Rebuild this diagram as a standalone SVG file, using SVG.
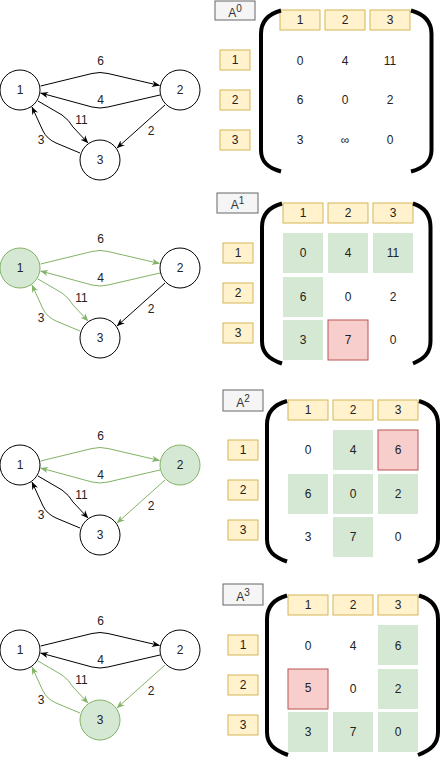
<svg xmlns="http://www.w3.org/2000/svg" width="443" height="760" viewBox="0 0 443 760">
<style>
text{font-family:"Liberation Sans",Helvetica,Arial,sans-serif;font-size:12px;fill:#222;text-anchor:middle}
.nd{fill:#fff;stroke:#000;stroke-width:1}
.ndg{fill:#d5e8d4;stroke:#82b366;stroke-width:1}
.eb{fill:none;stroke:#000;stroke-width:1;marker-end:url(#ab)}
.eg{fill:none;stroke:#82b366;stroke-width:1;marker-end:url(#ag)}
.hd{fill:#fff2cc;stroke:#d6b656;stroke-width:1}
.lb{fill:#f5f5f5;stroke:#666;stroke-width:1}
.lt{fill:#333}
.cg{fill:#d5e8d4;stroke:none}
.cr{fill:#f8cecc;stroke:#b85450;stroke-width:1}
.br{fill:none;stroke:#000;stroke-width:4}
</style>
<defs>
<marker id="ab" viewBox="0 0 10 10" refX="9.5" refY="5" markerWidth="8" markerHeight="8" markerUnits="userSpaceOnUse" orient="auto"><path d="M0,1 L10,5 L0,9 L3,5 Z" fill="#000"/></marker>
<marker id="ag" viewBox="0 0 10 10" refX="9.5" refY="5" markerWidth="8" markerHeight="8" markerUnits="userSpaceOnUse" orient="auto"><path d="M0,1 L10,5 L0,9 L3,5 Z" fill="#82b366"/></marker>
</defs>

<!-- ===== Panel 1 ===== -->
<g id="connectors-p1">
<path class="eb" d="M40.6,86 L92,73.5 Q100,71.5 108,73.5 L159.5,85.5"/>
<path class="eb" d="M160,95 L108,107 Q100,109 92,107 L40.6,93"/>
<path class="eb" d="M38,101 L62,115 Q69,120 73,127 L88,143"/>
<path class="eb" d="M80,153 L56,143 Q47,139 43,131 L32,107"/>
<path class="eb" d="M165,105 L117,148"/>
<text x="100.7" y="65">6</text>
<text x="100.7" y="104">4</text>
<text x="81.5" y="124">11</text>
<text x="41" y="143.5">3</text>
<text x="151" y="135">2</text>
</g>
<g id="p1-n1"><circle class="nd" cx="20" cy="90" r="20"/><text x="20" y="94">1</text></g>
<g id="p1-n2"><circle class="nd" cx="180" cy="90" r="20"/><text x="180" y="94">2</text></g>
<g id="p1-n3"><circle class="nd" cx="100" cy="160" r="20"/><text x="100" y="164">3</text></g>
<g id="p1-matrix">
<rect class="lb" x="215" y="1" width="40" height="19"/><text class="lt" x="235" y="17">A<tspan dy="-5.5" font-size="10">0</tspan></text>
<rect class="hd" x="280" y="10" width="40" height="20"/><text x="300" y="24">1</text>
<rect class="hd" x="325" y="10" width="40" height="20"/><text x="345" y="24">2</text>
<rect class="hd" x="370" y="10" width="40" height="20"/><text x="390" y="24">3</text>
<rect class="hd" x="220" y="50" width="30" height="20"/><text x="235" y="64">1</text>
<rect class="hd" x="220" y="90" width="30" height="20"/><text x="235" y="104">2</text>
<rect class="hd" x="220" y="130" width="30" height="20"/><text x="235" y="144">3</text>
<text x="300" y="65">0</text><text x="345" y="65">4</text><text x="390" y="65">11</text>
<text x="300" y="104">6</text><text x="345" y="104">0</text><text x="390" y="104">2</text>
<text x="300" y="144">3</text><text x="345" y="144">∞</text><text x="390" y="144">0</text>
<path class="br" d="M281,10.5 C268,14 261,22 261,34 L261,150 C261,162 268,168 281,171.5"/>
<path class="br" d="M411,10.5 C424,14 431.5,22 431.5,34 L431.5,150 C431.5,162 424,168 411,171.5"/>
</g>

<!-- ===== Panel 2 ===== -->
<g id="connectors-p2">
<path class="eg" d="M40.6,264 L92,251.5 Q100,249.5 108,251.5 L159.5,263.5"/>
<path class="eg" d="M160,273 L108,285 Q100,287 92,285 L40.6,271"/>
<path class="eg" d="M38,279 L62,293 Q69,298 73,305 L88,321"/>
<path class="eg" d="M80,331 L56,321 Q47,317 43,309 L32,285"/>
<path class="eb" d="M165,283 L117,326"/>
<text x="100.7" y="243">6</text>
<text x="100.7" y="282">4</text>
<text x="81.5" y="302">11</text>
<text x="41" y="321.5">3</text>
<text x="151" y="313">2</text>
</g>
<g id="p2-n1"><circle class="ndg" cx="20" cy="268" r="20"/><text x="20" y="272">1</text></g>
<g id="p2-n2"><circle class="nd" cx="180" cy="268" r="20"/><text x="180" y="272">2</text></g>
<g id="p2-n3"><circle class="nd" cx="100" cy="338" r="20"/><text x="100" y="342">3</text></g>
<g id="p2-matrix">
<rect class="lb" x="217" y="193" width="41" height="20"/><text class="lt" x="237.5" y="209">A<tspan dy="-5.5" font-size="10">1</tspan></text>
<rect class="hd" x="283" y="203" width="40" height="20"/><text x="303" y="217">1</text>
<rect class="hd" x="328" y="203" width="40" height="20"/><text x="348" y="217">2</text>
<rect class="hd" x="373" y="203" width="40" height="20"/><text x="393" y="217">3</text>
<rect class="hd" x="223" y="243" width="30" height="20"/><text x="238" y="257">1</text>
<rect class="hd" x="223" y="283" width="30" height="20"/><text x="238" y="297">2</text>
<rect class="hd" x="223" y="323" width="30" height="20"/><text x="238" y="337">3</text>
<rect class="cg" x="283" y="233" width="40" height="40"/><text x="303" y="257">0</text>
<rect class="cg" x="328" y="233" width="40" height="40"/><text x="348" y="257">4</text>
<rect class="cg" x="373" y="233" width="40" height="40"/><text x="393" y="257">11</text>
<rect class="cg" x="283" y="277" width="40" height="40"/><text x="303" y="301">6</text>
<text x="348" y="301">0</text>
<text x="393" y="301">2</text>
<rect class="cg" x="283" y="320" width="40" height="40"/><text x="303" y="344">3</text>
<rect class="cr" x="328" y="320" width="40" height="40"/><text x="348" y="344">7</text>
<text x="393" y="344">0</text>
<path class="br" d="M282,203.5 C269,207 262,215 262,227 L262,341 C262,353 269,359 282,363.5"/>
<path class="br" d="M413,203.5 C424,207 430.5,215 430.5,227 L430.5,341 C430.5,353 424,359 413,363.5"/>
</g>

<!-- ===== Panel 3 ===== -->
<g id="connectors-p3">
<path class="eg" d="M40.6,461 L92,448.5 Q100,446.5 108,448.5 L159.5,460.5"/>
<path class="eg" d="M160,470 L108,482 Q100,484 92,482 L40.6,468"/>
<path class="eb" d="M38,476 L62,490 Q69,495 73,502 L88,518"/>
<path class="eb" d="M80,528 L56,518 Q47,514 43,506 L32,482"/>
<path class="eg" d="M165,480 L117,523"/>
<text x="100.7" y="440">6</text>
<text x="100.7" y="479">4</text>
<text x="81.5" y="499">11</text>
<text x="41" y="518.5">3</text>
<text x="151" y="510">2</text>
</g>
<g id="p3-n1"><circle class="nd" cx="20" cy="465" r="20"/><text x="20" y="469">1</text></g>
<g id="p3-n2"><circle class="ndg" cx="180" cy="465" r="20"/><text x="180" y="469">2</text></g>
<g id="p3-n3"><circle class="nd" cx="100" cy="535" r="20"/><text x="100" y="539">3</text></g>
<g id="p3-matrix">
<rect class="lb" x="223" y="390" width="40" height="21"/><text class="lt" x="243" y="407">A<tspan dy="-5.5" font-size="10">2</tspan></text>
<rect class="hd" x="288" y="400" width="40" height="20"/><text x="308" y="414">1</text>
<rect class="hd" x="333" y="400" width="40" height="20"/><text x="353" y="414">2</text>
<rect class="hd" x="378" y="400" width="40" height="20"/><text x="398" y="414">3</text>
<rect class="hd" x="228" y="440" width="30" height="20"/><text x="243" y="454">1</text>
<rect class="hd" x="228" y="480" width="30" height="20"/><text x="243" y="494">2</text>
<rect class="hd" x="228" y="520" width="30" height="20"/><text x="243" y="534">3</text>
<text x="308" y="454">0</text>
<rect class="cg" x="333" y="430" width="40" height="40"/><text x="353" y="454">4</text>
<rect class="cr" x="378" y="430" width="40" height="40"/><text x="398" y="454">6</text>
<rect class="cg" x="288" y="474" width="40" height="40"/><text x="308" y="498">6</text>
<rect class="cg" x="333" y="474" width="40" height="40"/><text x="353" y="498">0</text>
<rect class="cg" x="378" y="474" width="40" height="40"/><text x="398" y="498">2</text>
<text x="308" y="541">3</text>
<rect class="cg" x="333" y="517" width="40" height="40"/><text x="353" y="541">7</text>
<text x="398" y="541">0</text>
<path class="br" d="M287,401 C274,404.5 267,412.5 267,424.5 L267,539 C267,551 274,557 287,561.5"/>
<path class="br" d="M419,401 C431,404.5 438,412.5 438,424.5 L438,539 C438,551 431,557 418,561.5"/>
</g>

<!-- ===== Panel 4 ===== -->
<g id="connectors-p4">
<path class="eb" d="M40.6,646 L92,633.5 Q100,631.5 108,633.5 L159.5,645.5"/>
<path class="eb" d="M160,655 L108,667 Q100,669 92,667 L40.6,653"/>
<path class="eg" d="M38,661 L62,675 Q69,680 73,687 L88,703"/>
<path class="eg" d="M80,713 L56,703 Q47,699 43,691 L32,667"/>
<path class="eg" d="M165,665 L117,708"/>
<text x="100.7" y="625">6</text>
<text x="100.7" y="664">4</text>
<text x="81.5" y="684">11</text>
<text x="41" y="703.5">3</text>
<text x="151" y="695">2</text>
</g>
<g id="p4-n1"><circle class="nd" cx="20" cy="650" r="20"/><text x="20" y="654">1</text></g>
<g id="p4-n2"><circle class="nd" cx="180" cy="650" r="20"/><text x="180" y="654">2</text></g>
<g id="p4-n3"><circle class="ndg" cx="100" cy="720" r="20"/><text x="100" y="724">3</text></g>
<g id="p4-matrix">
<rect class="lb" x="223" y="584" width="40" height="21"/><text class="lt" x="243" y="601">A<tspan dy="-5.5" font-size="10">3</tspan></text>
<rect class="hd" x="288" y="595" width="40" height="20"/><text x="308" y="609">1</text>
<rect class="hd" x="333" y="595" width="40" height="20"/><text x="353" y="609">2</text>
<rect class="hd" x="378" y="595" width="40" height="20"/><text x="398" y="609">3</text>
<rect class="hd" x="228" y="635" width="30" height="20"/><text x="243" y="649">1</text>
<rect class="hd" x="228" y="675" width="30" height="20"/><text x="243" y="689">2</text>
<rect class="hd" x="228" y="715" width="30" height="20"/><text x="243" y="729">3</text>
<text x="308" y="650">0</text>
<text x="353" y="650">4</text>
<rect class="cg" x="378" y="625" width="40" height="40"/><text x="398" y="650">6</text>
<rect class="cr" x="288" y="669" width="40" height="40"/><text x="308" y="692">5</text>
<text x="353" y="693">0</text>
<rect class="cg" x="378" y="669" width="40" height="40"/><text x="398" y="693">2</text>
<rect class="cg" x="288" y="712" width="40" height="40"/><text x="308" y="736">3</text>
<rect class="cg" x="333" y="712" width="40" height="40"/><text x="353" y="736">7</text>
<rect class="cg" x="378" y="712" width="40" height="40"/><text x="398" y="736">0</text>
<path class="br" d="M287,595.5 C274,599 267,607 267,619 L267,732 C267,744 274,750 288,755"/>
<path class="br" d="M419,595.5 C431,599 438,607 438,619 L438,732 C438,744 431,750 418,755"/>
</g>
</svg>
